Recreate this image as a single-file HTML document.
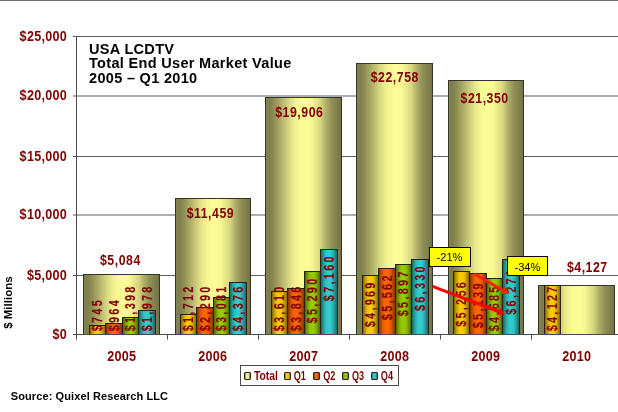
<!DOCTYPE html><html><head><meta charset="utf-8"><style>
html,body{margin:0;padding:0;background:#fff;width:618px;height:412px;overflow:hidden}
svg{display:block;filter:blur(0.4px)}
text{font-family:"Liberation Sans",sans-serif}
</style></head><body>
<svg width="618" height="412" viewBox="0 0 618 412">
<defs>
<linearGradient id="gT" x1="0" x2="1" y1="0" y2="0"><stop offset="0" stop-color="#84844f"/><stop offset="0.05" stop-color="#7e7e4b"/><stop offset="0.1" stop-color="#8a8a52"/><stop offset="0.18" stop-color="#a8a864"/><stop offset="0.25" stop-color="#c1c173"/><stop offset="0.31" stop-color="#d8d881"/><stop offset="0.38" stop-color="#eeee8e"/><stop offset="0.45" stop-color="#fafa95"/><stop offset="0.5" stop-color="#fcfc96"/><stop offset="0.55" stop-color="#fcfc96"/><stop offset="0.6" stop-color="#f8f894"/><stop offset="0.66" stop-color="#e8e88a"/><stop offset="0.73" stop-color="#d4d47e"/><stop offset="0.79" stop-color="#b2b26a"/><stop offset="0.87" stop-color="#909056"/><stop offset="0.97" stop-color="#7a7a49"/><stop offset="1" stop-color="#707043"/></linearGradient>

<linearGradient id="g1" x1="0" x2="1" y1="0" y2="0"><stop offset="0" stop-color="#735c00"/><stop offset="0.08" stop-color="#947600"/><stop offset="0.15" stop-color="#b89300"/><stop offset="0.22" stop-color="#d1a700"/><stop offset="0.3" stop-color="#ebbc00"/><stop offset="0.4" stop-color="#fac800"/><stop offset="0.5" stop-color="#ffcc00"/><stop offset="0.6" stop-color="#fac800"/><stop offset="0.7" stop-color="#e6b800"/><stop offset="0.78" stop-color="#cca300"/><stop offset="0.86" stop-color="#ad8b00"/><stop offset="0.93" stop-color="#917400"/><stop offset="1" stop-color="#806600"/></linearGradient>
<linearGradient id="g2" x1="0" x2="1" y1="0" y2="0"><stop offset="0" stop-color="#732e00"/><stop offset="0.08" stop-color="#943b00"/><stop offset="0.15" stop-color="#b84900"/><stop offset="0.22" stop-color="#d15400"/><stop offset="0.3" stop-color="#eb5e00"/><stop offset="0.4" stop-color="#fa6400"/><stop offset="0.5" stop-color="#ff6600"/><stop offset="0.6" stop-color="#fa6400"/><stop offset="0.7" stop-color="#e65c00"/><stop offset="0.78" stop-color="#cc5200"/><stop offset="0.86" stop-color="#ad4500"/><stop offset="0.93" stop-color="#913a00"/><stop offset="1" stop-color="#803300"/></linearGradient>
<linearGradient id="g3" x1="0" x2="1" y1="0" y2="0"><stop offset="0" stop-color="#455c00"/><stop offset="0.08" stop-color="#597600"/><stop offset="0.15" stop-color="#6e9300"/><stop offset="0.22" stop-color="#7da700"/><stop offset="0.3" stop-color="#8dbc00"/><stop offset="0.4" stop-color="#96c800"/><stop offset="0.5" stop-color="#99cc00"/><stop offset="0.6" stop-color="#96c800"/><stop offset="0.7" stop-color="#8ab800"/><stop offset="0.78" stop-color="#7aa300"/><stop offset="0.86" stop-color="#688b00"/><stop offset="0.93" stop-color="#577400"/><stop offset="1" stop-color="#4c6600"/></linearGradient>
<linearGradient id="g4" x1="0" x2="1" y1="0" y2="0"><stop offset="0" stop-color="#175c5c"/><stop offset="0.08" stop-color="#1e7676"/><stop offset="0.15" stop-color="#259393"/><stop offset="0.22" stop-color="#2aa7a7"/><stop offset="0.3" stop-color="#2fbcbc"/><stop offset="0.4" stop-color="#32c8c8"/><stop offset="0.5" stop-color="#33cccc"/><stop offset="0.6" stop-color="#32c8c8"/><stop offset="0.7" stop-color="#2eb8b8"/><stop offset="0.78" stop-color="#29a3a3"/><stop offset="0.86" stop-color="#238b8b"/><stop offset="0.93" stop-color="#1d7474"/><stop offset="1" stop-color="#1a6666"/></linearGradient>
</defs>
<rect x="0" y="0" width="618" height="1" fill="#6e6e6e"/>
<line x1="73" x2="618" y1="275.5" y2="275.5" stroke="#5e5e5e" stroke-width="1.15"/>
<line x1="73" x2="618" y1="215.0" y2="215.0" stroke="#5e5e5e" stroke-width="1.15"/>
<line x1="73" x2="618" y1="156.5" y2="156.5" stroke="#5e5e5e" stroke-width="1.15"/>
<line x1="73" x2="618" y1="96.0" y2="96.0" stroke="#5e5e5e" stroke-width="1.15"/>
<line x1="73" x2="618" y1="36.5" y2="36.5" stroke="#5e5e5e" stroke-width="1.15"/>
<rect x="83.5" y="274.5" width="76" height="60" fill="url(#gT)" stroke="#34342a" stroke-width="1"/>
<rect x="89.5" y="325.5" width="16" height="9" fill="url(#g1)" stroke="#262018" stroke-width="1"/>
<text transform="translate(102.30,331.30) rotate(-90) scale(0.78,1)" font-size="14" font-weight="bold" fill="#800000" letter-spacing="2.9">$745</text>
<rect x="105.5" y="323.5" width="17" height="11" fill="url(#g2)" stroke="#262018" stroke-width="1"/>
<text transform="translate(118.80,331.30) rotate(-90) scale(0.78,1)" font-size="14" font-weight="bold" fill="#800000" letter-spacing="2.9">$964</text>
<rect x="122.5" y="317.5" width="16" height="17" fill="url(#g3)" stroke="#262018" stroke-width="1"/>
<text transform="translate(135.30,331.30) rotate(-90) scale(0.78,1)" font-size="14" font-weight="bold" fill="#800000" letter-spacing="2.9">$1,398</text>
<rect x="138.5" y="310.5" width="17" height="24" fill="url(#g4)" stroke="#262018" stroke-width="1"/>
<text transform="translate(151.80,331.30) rotate(-90) scale(0.78,1)" font-size="14" font-weight="bold" fill="#800000" letter-spacing="2.9">$1,978</text>
<rect x="175.5" y="198.5" width="75" height="136" fill="url(#gT)" stroke="#34342a" stroke-width="1"/>
<rect x="180.5" y="314.5" width="16" height="20" fill="url(#g1)" stroke="#262018" stroke-width="1"/>
<text transform="translate(193.30,331.30) rotate(-90) scale(0.78,1)" font-size="14" font-weight="bold" fill="#800000" letter-spacing="2.9">$1,712</text>
<rect x="196.5" y="307.5" width="17" height="27" fill="url(#g2)" stroke="#262018" stroke-width="1"/>
<text transform="translate(209.80,331.30) rotate(-90) scale(0.78,1)" font-size="14" font-weight="bold" fill="#800000" letter-spacing="2.9">$2,290</text>
<rect x="213.5" y="297.5" width="16" height="37" fill="url(#g3)" stroke="#262018" stroke-width="1"/>
<text transform="translate(226.30,331.30) rotate(-90) scale(0.78,1)" font-size="14" font-weight="bold" fill="#800000" letter-spacing="2.9">$3,081</text>
<rect x="229.5" y="282.5" width="17" height="52" fill="url(#g4)" stroke="#262018" stroke-width="1"/>
<text transform="translate(242.80,331.30) rotate(-90) scale(0.78,1)" font-size="14" font-weight="bold" fill="#800000" letter-spacing="2.9">$4,376</text>
<rect x="265.5" y="97.5" width="76" height="237" fill="url(#gT)" stroke="#34342a" stroke-width="1"/>
<rect x="271.5" y="291.5" width="16" height="43" fill="url(#g1)" stroke="#262018" stroke-width="1"/>
<text transform="translate(284.30,331.30) rotate(-90) scale(0.78,1)" font-size="14" font-weight="bold" fill="#800000" letter-spacing="2.9">$3,610</text>
<rect x="287.5" y="288.5" width="17" height="46" fill="url(#g2)" stroke="#262018" stroke-width="1"/>
<text transform="translate(300.80,331.30) rotate(-90) scale(0.78,1)" font-size="14" font-weight="bold" fill="#800000" letter-spacing="2.9">$3,846</text>
<rect x="304.5" y="271.5" width="16" height="63" fill="url(#g3)" stroke="#262018" stroke-width="1"/>
<text transform="translate(317.30,323.44) rotate(-90) scale(0.78,1)" font-size="14" font-weight="bold" fill="#800000" letter-spacing="2.9">$5,290</text>
<rect x="320.5" y="249.5" width="17" height="85" fill="url(#g4)" stroke="#262018" stroke-width="1"/>
<text transform="translate(333.80,301.15) rotate(-90) scale(0.78,1)" font-size="14" font-weight="bold" fill="#800000" letter-spacing="2.9">$7,160</text>
<rect x="356.5" y="63.5" width="76" height="271" fill="url(#gT)" stroke="#34342a" stroke-width="1"/>
<rect x="362.5" y="275.5" width="16" height="59" fill="url(#g1)" stroke="#262018" stroke-width="1"/>
<text transform="translate(375.30,327.27) rotate(-90) scale(0.78,1)" font-size="14" font-weight="bold" fill="#800000" letter-spacing="2.9">$4,969</text>
<rect x="378.5" y="268.5" width="17" height="66" fill="url(#g2)" stroke="#262018" stroke-width="1"/>
<text transform="translate(391.80,320.20) rotate(-90) scale(0.78,1)" font-size="14" font-weight="bold" fill="#800000" letter-spacing="2.9">$5,562</text>
<rect x="395.5" y="264.5" width="16" height="70" fill="url(#g3)" stroke="#262018" stroke-width="1"/>
<text transform="translate(408.30,316.21) rotate(-90) scale(0.78,1)" font-size="14" font-weight="bold" fill="#800000" letter-spacing="2.9">$5,897</text>
<rect x="411.5" y="259.5" width="17" height="75" fill="url(#g4)" stroke="#262018" stroke-width="1"/>
<text transform="translate(424.80,311.05) rotate(-90) scale(0.78,1)" font-size="14" font-weight="bold" fill="#800000" letter-spacing="2.9">$6,330</text>
<rect x="448.5" y="80.5" width="75" height="254" fill="url(#gT)" stroke="#34342a" stroke-width="1"/>
<rect x="453.5" y="271.5" width="16" height="63" fill="url(#g1)" stroke="#262018" stroke-width="1"/>
<text transform="translate(466.30,326.85) rotate(-90) scale(0.78,1)" font-size="14" font-weight="bold" fill="#800000" letter-spacing="2.9">$5,256</text>
<rect x="469.5" y="273.5" width="17" height="61" fill="url(#g2)" stroke="#262018" stroke-width="1"/>
<text transform="translate(482.80,328.24) rotate(-90) scale(0.78,1)" font-size="14" font-weight="bold" fill="#800000" letter-spacing="2.9">$5,139</text>
<rect x="486.5" y="278.5" width="16" height="56" fill="url(#g3)" stroke="#262018" stroke-width="1"/>
<text transform="translate(499.30,331.30) rotate(-90) scale(0.78,1)" font-size="14" font-weight="bold" fill="#800000" letter-spacing="2.9">$4,685</text>
<rect x="502.5" y="259.5" width="17" height="75" fill="url(#g4)" stroke="#262018" stroke-width="1"/>
<text transform="translate(515.80,314.75) rotate(-90) scale(0.78,1)" font-size="14" font-weight="bold" fill="#800000" letter-spacing="2.9">$6,271</text>
<rect x="538.5" y="285.5" width="76" height="49" fill="url(#gT)" stroke="#34342a" stroke-width="1"/>
<rect x="544.5" y="285.5" width="16" height="49" fill="url(#g1)" stroke="#262018" stroke-width="1"/>
<text transform="translate(557.30,331.30) rotate(-90) scale(0.78,1)" font-size="14" font-weight="bold" fill="#800000" letter-spacing="2.9">$4,127</text>
<line x1="73" x2="618" y1="334.5" y2="334.5" stroke="#4a4a4a" stroke-width="1"/>
<line x1="76.5" x2="76.5" y1="36" y2="339.5" stroke="#4a4a4a" stroke-width="1"/>
<line x1="167.5" x2="167.5" y1="334" y2="339.5" stroke="#4a4a4a" stroke-width="1"/>
<line x1="258.5" x2="258.5" y1="334" y2="339.5" stroke="#4a4a4a" stroke-width="1"/>
<line x1="349.5" x2="349.5" y1="334" y2="339.5" stroke="#4a4a4a" stroke-width="1"/>
<line x1="440.5" x2="440.5" y1="334" y2="339.5" stroke="#4a4a4a" stroke-width="1"/>
<line x1="531.5" x2="531.5" y1="334" y2="339.5" stroke="#4a4a4a" stroke-width="1"/>
<text transform="translate(67.0,338.50) scale(0.9,1)" font-size="14" font-weight="bold" fill="#800000" text-anchor="end" letter-spacing="0.3">$0</text>
<text transform="translate(67.0,279.50) scale(0.9,1)" font-size="14" font-weight="bold" fill="#800000" text-anchor="end" letter-spacing="0.3">$5,000</text>
<text transform="translate(67.0,219.00) scale(0.9,1)" font-size="14" font-weight="bold" fill="#800000" text-anchor="end" letter-spacing="0.3">$10,000</text>
<text transform="translate(67.0,160.50) scale(0.9,1)" font-size="14" font-weight="bold" fill="#800000" text-anchor="end" letter-spacing="0.3">$15,000</text>
<text transform="translate(67.0,100.00) scale(0.9,1)" font-size="14" font-weight="bold" fill="#800000" text-anchor="end" letter-spacing="0.3">$20,000</text>
<text transform="translate(67.0,40.50) scale(0.9,1)" font-size="14" font-weight="bold" fill="#800000" text-anchor="end" letter-spacing="0.3">$25,000</text>
<text transform="translate(121.70,361.1) scale(0.83,1)" font-size="15.2" font-weight="bold" fill="#800000" text-anchor="middle" letter-spacing="0.3">2005</text>
<text transform="translate(212.70,361.1) scale(0.83,1)" font-size="15.2" font-weight="bold" fill="#800000" text-anchor="middle" letter-spacing="0.3">2006</text>
<text transform="translate(303.70,361.1) scale(0.83,1)" font-size="15.2" font-weight="bold" fill="#800000" text-anchor="middle" letter-spacing="0.3">2007</text>
<text transform="translate(394.70,361.1) scale(0.83,1)" font-size="15.2" font-weight="bold" fill="#800000" text-anchor="middle" letter-spacing="0.3">2008</text>
<text transform="translate(485.70,361.1) scale(0.83,1)" font-size="15.2" font-weight="bold" fill="#800000" text-anchor="middle" letter-spacing="0.3">2009</text>
<text transform="translate(576.70,361.1) scale(0.83,1)" font-size="15.2" font-weight="bold" fill="#800000" text-anchor="middle" letter-spacing="0.3">2010</text>
<text transform="translate(120.39999999999999,264.8) scale(0.88,1)" font-size="14" font-weight="bold" fill="#800000" text-anchor="middle" letter-spacing="0.6">$5,084</text>
<text transform="translate(210.4,217.79999999999998) scale(0.88,1)" font-size="14" font-weight="bold" fill="#800000" text-anchor="middle" letter-spacing="0.6">$11,459</text>
<text transform="translate(299.3,117.3) scale(0.88,1)" font-size="14" font-weight="bold" fill="#800000" text-anchor="middle" letter-spacing="0.6">$19,906</text>
<text transform="translate(394.8,81.6) scale(0.88,1)" font-size="14" font-weight="bold" fill="#800000" text-anchor="middle" letter-spacing="0.6">$22,758</text>
<text transform="translate(484.6,102.8) scale(0.88,1)" font-size="14" font-weight="bold" fill="#800000" text-anchor="middle" letter-spacing="0.6">$21,350</text>
<text transform="translate(587.3,271.6) scale(0.88,1)" font-size="14" font-weight="bold" fill="#800000" text-anchor="middle" letter-spacing="0.6">$4,127</text>
<text font-size="14.5" font-weight="bold" fill="#000" letter-spacing="0.32"><tspan x="89" y="53.5">USA LCDTV</tspan><tspan x="89" y="68.1">Total End User Market Value</tspan><tspan x="89" y="82.5">2005 – Q1 2010</tspan></text>
<text transform="translate(11.8,328.8) rotate(-90)" font-size="11.5" font-weight="bold" fill="#000">$ Millions</text>
<text x="10.8" y="399.5" font-size="11" font-weight="bold" fill="#000" letter-spacing="0.1">Source: Quixel Research LLC</text>
<line x1="432.5" y1="286.3" x2="498.46" y2="311.50" stroke="#ff0000" stroke-width="3.0"/>
<polygon points="505,314 496.49,315.25 499.49,307.40" fill="#ff0000"/>
<line x1="474.5" y1="274" x2="503.42" y2="290.53" stroke="#ff2200" stroke-width="3.0"/>
<polygon points="509.5,294 500.90,293.93 505.07,286.63" fill="#ff2200"/>
<rect x="429.5" y="247.5" width="41" height="19" fill="#ffff00" stroke="#000" stroke-width="1"/>
<text transform="translate(449.5,261.1) scale(0.95,1)" font-size="11.7" fill="#000" text-anchor="middle">-21%</text>
<rect x="507.5" y="256.5" width="40" height="19" fill="#ffff00" stroke="#000" stroke-width="1"/>
<text transform="translate(527.4,270.5) scale(0.95,1)" font-size="11.7" fill="#000" text-anchor="middle">-34%</text>
<rect x="240.5" y="365.5" width="158" height="20" fill="#fff" stroke="#4a4a4a" stroke-width="1"/>
<rect x="244.5" y="372.5" width="6" height="7" rx="0.6" fill="url(#gT)" stroke="#222" stroke-width="1"/>
<text transform="translate(254,379.6) scale(0.86,1)" font-size="12" font-weight="bold" fill="#800000">Total</text>
<rect x="284.5" y="372.5" width="6" height="7" rx="0.6" fill="url(#g1)" stroke="#222" stroke-width="1"/>
<text transform="translate(293.7,379.6) scale(0.76,1)" font-size="12" font-weight="bold" fill="#800000">Q1</text>
<rect x="313.5" y="372.5" width="6" height="7" rx="0.6" fill="url(#g2)" stroke="#222" stroke-width="1"/>
<text transform="translate(323.2,379.6) scale(0.76,1)" font-size="12" font-weight="bold" fill="#800000">Q2</text>
<rect x="342.5" y="372.5" width="6" height="7" rx="0.6" fill="url(#g3)" stroke="#222" stroke-width="1"/>
<text transform="translate(352,379.6) scale(0.76,1)" font-size="12" font-weight="bold" fill="#800000">Q3</text>
<rect x="371.5" y="372.5" width="6" height="7" rx="0.6" fill="url(#g4)" stroke="#222" stroke-width="1"/>
<text transform="translate(380.8,379.6) scale(0.76,1)" font-size="12" font-weight="bold" fill="#800000">Q4</text>
</svg></body></html>
